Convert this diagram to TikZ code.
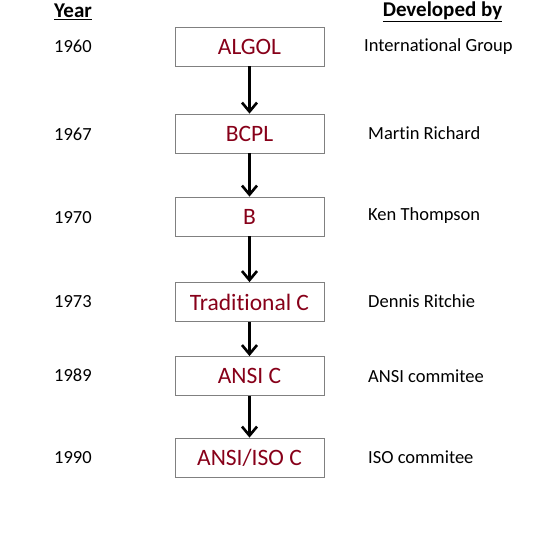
\documentclass[tikz,border=0pt]{standalone}
\usepackage{fontspec}
\setmainfont{Carlito}[Ligatures={NoCommon,NoRare}]
\usepackage{xcolor}
\usetikzlibrary{arrows.meta}
\definecolor{langred}{RGB}{135,0,25}
\definecolor{boxgray}{RGB}{128,128,128}

\begin{document}
\begin{tikzpicture}[x=1pt,y=1pt,
  lang/.style={draw=boxgray,line width=0.8pt,minimum width=149pt,minimum height=39pt,
    inner sep=0pt,text=langred,font=\fontsize{23.5}{26}\selectfont},
  year/.style={anchor=west,inner sep=0pt,font=\fontsize{18.5}{21}\selectfont},
  dev/.style={anchor=west,inner sep=0pt,font=\fontsize{18.5}{21}\selectfont},
  head/.style={inner sep=0pt,font=\fontsize{21}{24}\selectfont\bfseries},
  flow/.style={-{Straight Barb[length=9pt,width=15pt,line width=2.6pt]},line width=3pt}]
  \useasboundingbox (0,0) rectangle (540,-550);

  \node (Year) [head,anchor=west] at (54,-12) {\underline{Year}};
  \node (DevBy) [head] at (442.5,-12) {\underline{Developed by}};

  \node (ALGOL) [lang] at (249.5,-46.5) {ALGOL};
  \node (BCPL) [lang] at (249.5,-133.5) {BCPL};
  \node (B) [lang] at (249.5,-216.5) {B};
  \node (TradC) [lang] at (249.5,-302) {Traditional C};
  \node (ANSIC) [lang] at (249.5,-376) {ANSI C};
  \node (ISOC) [lang] at (249.5,-457.5) {ANSI/ISO C};

  \node (Y1960) [year] at (54,-46.5) {1960};
  \node (Y1967) [year] at (54,-134.5) {1967};
  \node (Y1970) [year] at (54,-217.5) {1970};
  \node (Y1973) [year] at (54,-301.5) {1973};
  \node (Y1989) [year] at (54,-375.5) {1989};
  \node (Y1990) [year] at (54,-458) {1990};

  \node (D_ALGOL) [dev] at (364,-46.5) {International Group};
  \node (D_BCPL) [dev] at (368,-133.5) {Martin Richard};
  \node (D_B) [dev] at (368,-215.5) {Ken Thompson};
  \node (D_TradC) [dev] at (368,-301.5) {Dennis Ritchie};
  \node (D_ANSIC) [dev] at (368,-376) {ANSI commitee};
  \node (D_ISOC) [dev] at (368,-457) {ISO commitee};

  \path (ALGOL) edge[flow] (BCPL);
  \path (BCPL) edge[flow] (B);
  \path (B) edge[flow] (TradC);
  \path (TradC) edge[flow] (ANSIC);
  \path (ANSIC) edge[flow] (ISOC);
\end{tikzpicture}
\end{document}
